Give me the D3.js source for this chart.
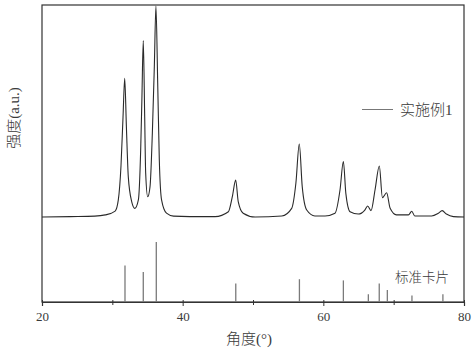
<!DOCTYPE html>
<html>
<head>
<meta charset="utf-8">
<script src="https://cdn.jsdelivr.net/npm/d3@7"></script>
<style>
  body { margin: 0; background: #fff; }
  text { font-family: "Liberation Serif", "Noto Sans CJK SC", serif; fill: #3a3a3a; font-weight: 300; }
</style>
</head>
<body>
<div id="vis"></div>
<script>
// XRD pattern (2theta in degrees, intensity in arbitrary units)
var angles = [20, 24, 27.5, 29, 30.4, 30.85, 31.23, 31.52, 31.76, 32.0, 32.27, 32.75, 33.2, 33.7,
  34.03, 34.2, 34.4, 34.6, 34.74, 35.03, 35.36, 35.69, 35.97, 36.2, 36.45, 36.68, 37.0, 37.7,
  38.7, 41, 44.6, 46.5, 47.06, 47.54, 47.9, 48.6, 50.3, 54.1, 55.5, 56.1, 56.58, 57.0, 57.64,
  58.8, 60.24, 61.66, 62.37, 62.85, 63.2, 63.8, 64.97, 65.9, 66.3, 66.78, 67.35, 67.96, 68.4,
  69.0, 69.5, 70.4, 72.1, 72.57, 73.0, 75.4, 76.35, 76.9, 77.5, 78.5, 80];
var intensity = [0, 2, 4, 10, 28, 81, 242, 474, 657, 427, 190, 73, 41, 81,
  318, 555, 836, 475, 209, 96, 144, 398, 712, 1000, 635, 270, 81, 18,
  4, 2, 2, 25, 96, 175, 73, 18, 0, 5, 41, 161, 346, 144, 33,
  5, 5, 18, 128, 263, 112, 25, 14, 33, 52, 30, 128, 242, 92,
  115, 41, 10, 10, 27, 5, 5, 18, 30, 14, 2, 0];

// standard card lines
var cardAngles = [31.8, 34.4, 36.25, 47.55, 56.6, 62.85, 66.4, 67.95, 69.1, 72.6, 77.0];
var cardHeights = [61, 50, 100, 31, 38, 36, 13, 31, 20, 11, 13];

var xTicks = [20, 40, 60, 80];
var xMinorTicks = [30, 50, 70];
var seriesName = '实施例1';
var cardName = '标准卡片';

var W = 474, H = 350;
var margin = { top: 5, left: 42, right: 10, bottom: 48 };
var width = W - margin.left - margin.right,
    height = H - margin.top - margin.bottom;

var svg = d3.select('#vis').append('svg')
  .attr('width', W).attr('height', H);

var g = svg.append('g')
  .attr('transform', 'translate(' + margin.left + ',' + margin.top + ')');

var x = d3.scaleLinear().domain([20, 80]).range([0, width]);
// pattern sits in the upper part, card in the lower band
var yPat = d3.scaleLinear().domain([0, 1000]).range([212, 1]);
var yCard = d3.scaleLinear().domain([0, 100]).range([height, 237]);

// frame
g.append('rect')
  .attr('x', 0).attr('y', 0)
  .attr('width', width).attr('height', height)
  .attr('fill', 'none')
  .attr('stroke', '#333')
  .attr('stroke-width', 1.2);

// bottom axis
var xAxis = g.append('g')
  .attr('transform', 'translate(0,' + height + ')')
  .call(d3.axisBottom(x).tickValues(xTicks).tickSize(4).tickPadding(6).tickFormat(d3.format('d')));
xAxis.select('.domain').attr('stroke', '#333').attr('stroke-width', 1.2);
xAxis.selectAll('.tick line').attr('stroke', '#333').attr('y1', -2);
xAxis.selectAll('.tick text')
  .style('font-family', '"Liberation Serif", serif')
  .style('font-size', '13px')
  .attr('fill', '#333');

g.append('g')
  .attr('transform', 'translate(0,' + height + ')')
  .call(d3.axisBottom(x).tickValues(xMinorTicks).tickSize(3).tickFormat(''))
  .call(function (a) {
    a.select('.domain').remove();
    a.selectAll('.tick line').attr('stroke', '#333').attr('y1', -2);
  });

// card lines
g.append('g').selectAll('line')
  .data(cardAngles.map(function (a, i) { return [a, cardHeights[i]]; }))
  .enter().append('line')
  .attr('x1', function (d) { return x(d[0]); })
  .attr('x2', function (d) { return x(d[0]); })
  .attr('y1', yCard(0))
  .attr('y2', function (d) { return yCard(d[1]); })
  .attr('stroke', '#7a7a7a')
  .attr('stroke-width', 1.3);

// pattern curve
var pts = angles.map(function (a, i) { return [a, intensity[i]]; });
var line = d3.line()
  .x(function (d) { return x(d[0]); })
  .y(function (d) { return yPat(d[1]); })
  .curve(d3.curveMonotoneX);

g.append('path')
  .datum(pts)
  .attr('d', line)
  .attr('fill', 'none')
  .attr('stroke', '#2a2a2a')
  .attr('stroke-width', 1.1);

// legend
g.append('line')
  .attr('x1', 320).attr('x2', 351)
  .attr('y1', 104.5).attr('y2', 104.5)
  .attr('stroke', '#777')
  .attr('stroke-width', 1);
g.append('text')
  .attr('x', 358).attr('y', 109.5)
  .style('font-size', '15px')
  .text(seriesName);

g.append('text')
  .attr('x', 353).attr('y', 277)
  .style('font-size', '13.5px')
  .text(cardName);

// axis titles
svg.append('text')
  .attr('x', margin.left + width / 2 - 4)
  .attr('y', 344)
  .attr('text-anchor', 'middle')
  .style('font-size', '15px')
  .text('角度(°)');

svg.append('text')
  .attr('text-anchor', 'middle')
  .attr('transform', 'translate(19,118)rotate(-90)')
  .style('font-size', '15px')
  .text('强度(a.u.)');
</script>
</body>
</html>
